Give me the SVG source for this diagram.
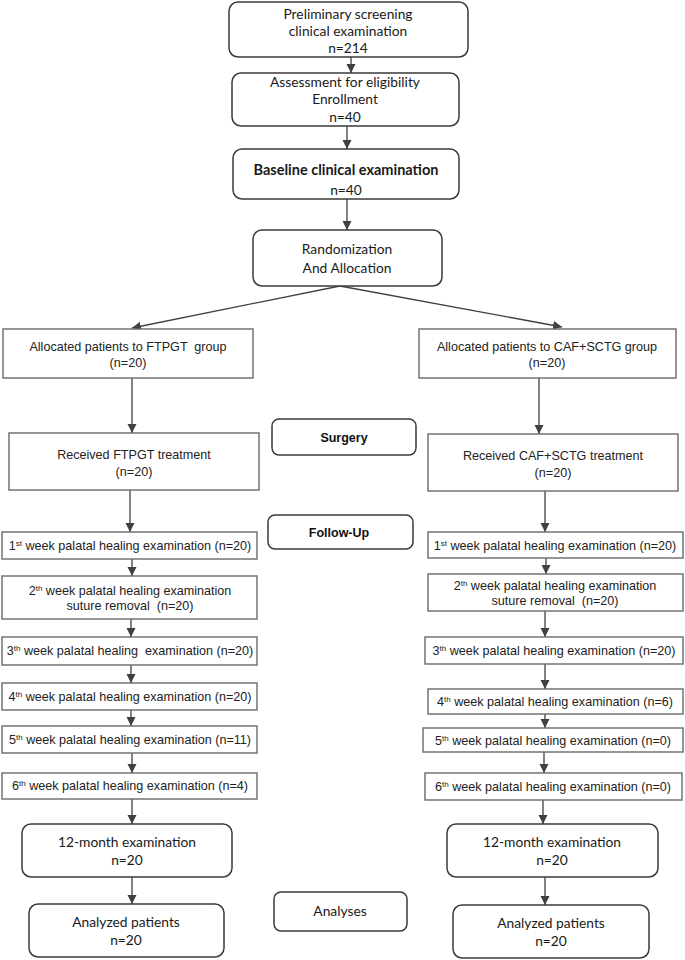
<svg xmlns="http://www.w3.org/2000/svg" width="685" height="960" viewBox="0 0 685 960">
<style>
.bg{fill:#fff}
.rr{fill:#fff;stroke:#3a3a3a;stroke-width:1.5}
.sq{fill:#fff;stroke:#6a6a6a;stroke-width:1.4}
.t1{font-family:Lato,"Liberation Sans",sans-serif;font-size:13.8px;fill:#1a1a1a;text-anchor:middle}
.t1b{font-family:Lato,"Liberation Sans",sans-serif;font-size:14.5px;font-weight:bold;fill:#1a1a1a;text-anchor:middle}
.t2{font-family:"Liberation Sans",Arial,sans-serif;font-size:12.6px;fill:#222;text-anchor:middle;white-space:pre}
.tb{font-family:"Liberation Sans",Arial,sans-serif;font-size:12.5px;font-weight:bold;fill:#111;text-anchor:middle}
.sup{font-size:8px}
.ln{stroke:#404040;stroke-width:1.3;fill:none;marker-end:url(#ah)}
</style>
<defs>
<marker id="ah" markerUnits="userSpaceOnUse" markerWidth="10" markerHeight="10" refX="9" refY="4.5" orient="auto">
<path d="M0,0 L9,4.5 L0,9 z" fill="#404040"/>
</marker>
</defs>
<rect class="bg" x="0" y="0" width="685" height="960"/>

<g id="connectors">
<line class="ln" x1="351" y1="57" x2="351" y2="73"/>
<line class="ln" x1="347" y1="126" x2="347" y2="149"/>
<line class="ln" x1="347" y1="199" x2="347" y2="230"/>
<line class="ln" x1="340" y1="286" x2="132" y2="328"/>
<line class="ln" x1="340" y1="286" x2="562" y2="327"/>
<line class="ln" x1="132" y1="378" x2="132" y2="433"/>
<line class="ln" x1="539" y1="378" x2="539" y2="434"/>
<line class="ln" x1="130" y1="490" x2="130" y2="532"/>
<line class="ln" x1="545" y1="491" x2="545" y2="532"/>
<line class="ln" x1="132" y1="559" x2="132" y2="576"/>
<line class="ln" x1="131" y1="619" x2="131" y2="637"/>
<line class="ln" x1="131" y1="665" x2="131" y2="683"/>
<line class="ln" x1="131" y1="710" x2="131" y2="726"/>
<line class="ln" x1="132" y1="753" x2="132" y2="773"/>
<line class="ln" x1="132" y1="799" x2="132" y2="824"/>
<line class="ln" x1="132" y1="877" x2="132" y2="904"/>
<line class="ln" x1="546" y1="558" x2="546" y2="574"/>
<line class="ln" x1="545" y1="611" x2="545" y2="637"/>
<line class="ln" x1="545" y1="664" x2="545" y2="689"/>
<line class="ln" x1="545" y1="714" x2="545" y2="728"/>
<line class="ln" x1="544" y1="752" x2="544" y2="773"/>
<line class="ln" x1="543" y1="800" x2="543" y2="824"/>
<line class="ln" x1="545" y1="877" x2="545" y2="905"/>
</g>

<g id="n-screening">
<rect class="rr" x="229" y="2" width="239" height="55" rx="9"/>
<text class="t1" x="348" y="19">Preliminary screening</text>
<text class="t1" x="348" y="36">clinical examination</text>
<text class="t1" x="348" y="53">n=214</text>
</g>
<g id="n-eligibility">
<rect class="rr" x="232" y="73" width="227" height="53" rx="9"/>
<text class="t1" x="345" y="87">Assessment for eligibility</text>
<text class="t1" x="345" y="104">Enrollment</text>
<text class="t1" x="345" y="122">n=40</text>
</g>
<g id="n-baseline">
<rect class="rr" x="233" y="149" width="226" height="50" rx="9"/>
<text class="t1b" x="346" y="175">Baseline clinical examination</text>
<text class="t1" x="346" y="195">n=40</text>
</g>
<g id="n-random">
<rect class="rr" x="253" y="230" width="189" height="56" rx="9"/>
<text class="t1" x="347" y="254">Randomization</text>
<text class="t1" x="347" y="273">And Allocation</text>
</g>

<g id="n-alloc-left">
<rect class="sq" x="3" y="329" width="250" height="49"/>
<text class="t2" x="128" y="351" xml:space="preserve">Allocated patients to FTPGT  group</text>
<text class="t2" x="128" y="367">(n=20)</text>
</g>
<g id="n-alloc-right">
<rect class="sq" x="419" y="329" width="257" height="49"/>
<text class="t2" x="547" y="351">Allocated patients to CAF+SCTG group</text>
<text class="t2" x="547" y="367">(n=20)</text>
</g>

<g id="n-surgery">
<rect class="rr" x="272" y="419" width="144" height="36" rx="7"/>
<text class="tb" x="344" y="442">Surgery</text>
</g>
<g id="n-followup">
<rect class="rr" x="268" y="515" width="145" height="34" rx="7"/>
<text class="tb" x="339" y="537">Follow-Up</text>
</g>
<g id="n-analyses">
<rect class="rr" x="274" y="892" width="133" height="39" rx="7"/>
<text class="t1" x="340" y="916">Analyses</text>
</g>

<g id="n-recv-left">
<rect class="sq" x="9" y="433" width="250" height="57"/>
<text class="t2" x="134" y="459">Received FTPGT treatment</text>
<text class="t2" x="134" y="476">(n=20)</text>
</g>
<g id="n-recv-right">
<rect class="sq" x="428" y="434" width="250" height="57"/>
<text class="t2" x="553" y="460">Received CAF+SCTG treatment</text>
<text class="t2" x="553" y="477">(n=20)</text>
</g>

<g id="n-l1">
<rect class="sq" x="2" y="532" width="255" height="27"/>
<text class="t2" x="130" y="550">1<tspan class="sup" dy="-4">st</tspan><tspan dy="4"> week palatal healing examination (n=20)</tspan></text>
</g>
<g id="n-l2">
<rect class="sq" x="2" y="576" width="255" height="43"/>
<text class="t2" x="130" y="595">2<tspan class="sup" dy="-4">th</tspan><tspan dy="4"> week palatal healing examination</tspan></text>
<text class="t2" x="130" y="610" xml:space="preserve">suture removal  (n=20)</text>
</g>
<g id="n-l3">
<rect class="sq" x="2" y="637" width="255" height="28"/>
<text class="t2" x="130" y="655" xml:space="preserve">3<tspan class="sup" dy="-4">th</tspan><tspan dy="4"> week palatal healing  examination (n=20)</tspan></text>
</g>
<g id="n-l4">
<rect class="sq" x="2" y="683" width="255" height="27"/>
<text class="t2" x="130" y="701">4<tspan class="sup" dy="-4">th</tspan><tspan dy="4"> week palatal healing examination (n=20)</tspan></text>
</g>
<g id="n-l5">
<rect class="sq" x="2" y="726" width="255" height="27"/>
<text class="t2" x="130" y="744">5<tspan class="sup" dy="-4">th</tspan><tspan dy="4"> week palatal healing examination (n=11)</tspan></text>
</g>
<g id="n-l6">
<rect class="sq" x="2" y="773" width="255" height="26"/>
<text class="t2" x="130" y="790">6<tspan class="sup" dy="-4">th</tspan><tspan dy="4"> week palatal healing examination (n=4)</tspan></text>
</g>
<g id="n-l12">
<rect class="rr" x="22" y="824" width="210" height="53" rx="9"/>
<text class="t1" x="127" y="847">12-month examination</text>
<text class="t1" x="127" y="865">n=20</text>
</g>
<g id="n-lan">
<rect class="rr" x="29" y="904" width="195" height="53" rx="9"/>
<text class="t1" x="126" y="927">Analyzed patients</text>
<text class="t1" x="126" y="945">n=20</text>
</g>

<g id="n-r1">
<rect class="sq" x="428" y="532" width="255" height="26"/>
<text class="t2" x="555" y="550">1<tspan class="sup" dy="-4">st</tspan><tspan dy="4"> week palatal healing examination (n=20)</tspan></text>
</g>
<g id="n-r2">
<rect class="sq" x="428" y="574" width="255" height="37"/>
<text class="t2" x="555" y="590">2<tspan class="sup" dy="-4">th</tspan><tspan dy="4"> week palatal healing examination</tspan></text>
<text class="t2" x="555" y="605" xml:space="preserve">suture removal  (n=20)</text>
</g>
<g id="n-r3">
<rect class="sq" x="425" y="637" width="258" height="27"/>
<text class="t2" x="554" y="655">3<tspan class="sup" dy="-4">th</tspan><tspan dy="4"> week palatal healing examination (n=20)</tspan></text>
</g>
<g id="n-r4">
<rect class="sq" x="428" y="689" width="255" height="25"/>
<text class="t2" x="555" y="706">4<tspan class="sup" dy="-4">th</tspan><tspan dy="4"> week palatal healing examination (n=6)</tspan></text>
</g>
<g id="n-r5">
<rect class="sq" x="423" y="728" width="260" height="24"/>
<text class="t2" x="553" y="745">5<tspan class="sup" dy="-4">th</tspan><tspan dy="4"> week palatal healing examination (n=0)</tspan></text>
</g>
<g id="n-r6">
<rect class="sq" x="425" y="773" width="257" height="27"/>
<text class="t2" x="553" y="791">6<tspan class="sup" dy="-4">th</tspan><tspan dy="4"> week palatal healing examination (n=0)</tspan></text>
</g>
<g id="n-r12">
<rect class="rr" x="447" y="824" width="211" height="53" rx="9"/>
<text class="t1" x="552" y="847">12-month examination</text>
<text class="t1" x="552" y="865">n=20</text>
</g>
<g id="n-ran">
<rect class="rr" x="453" y="905" width="196" height="53" rx="9"/>
<text class="t1" x="551" y="928">Analyzed patients</text>
<text class="t1" x="551" y="946">n=20</text>
</g>
</svg>
